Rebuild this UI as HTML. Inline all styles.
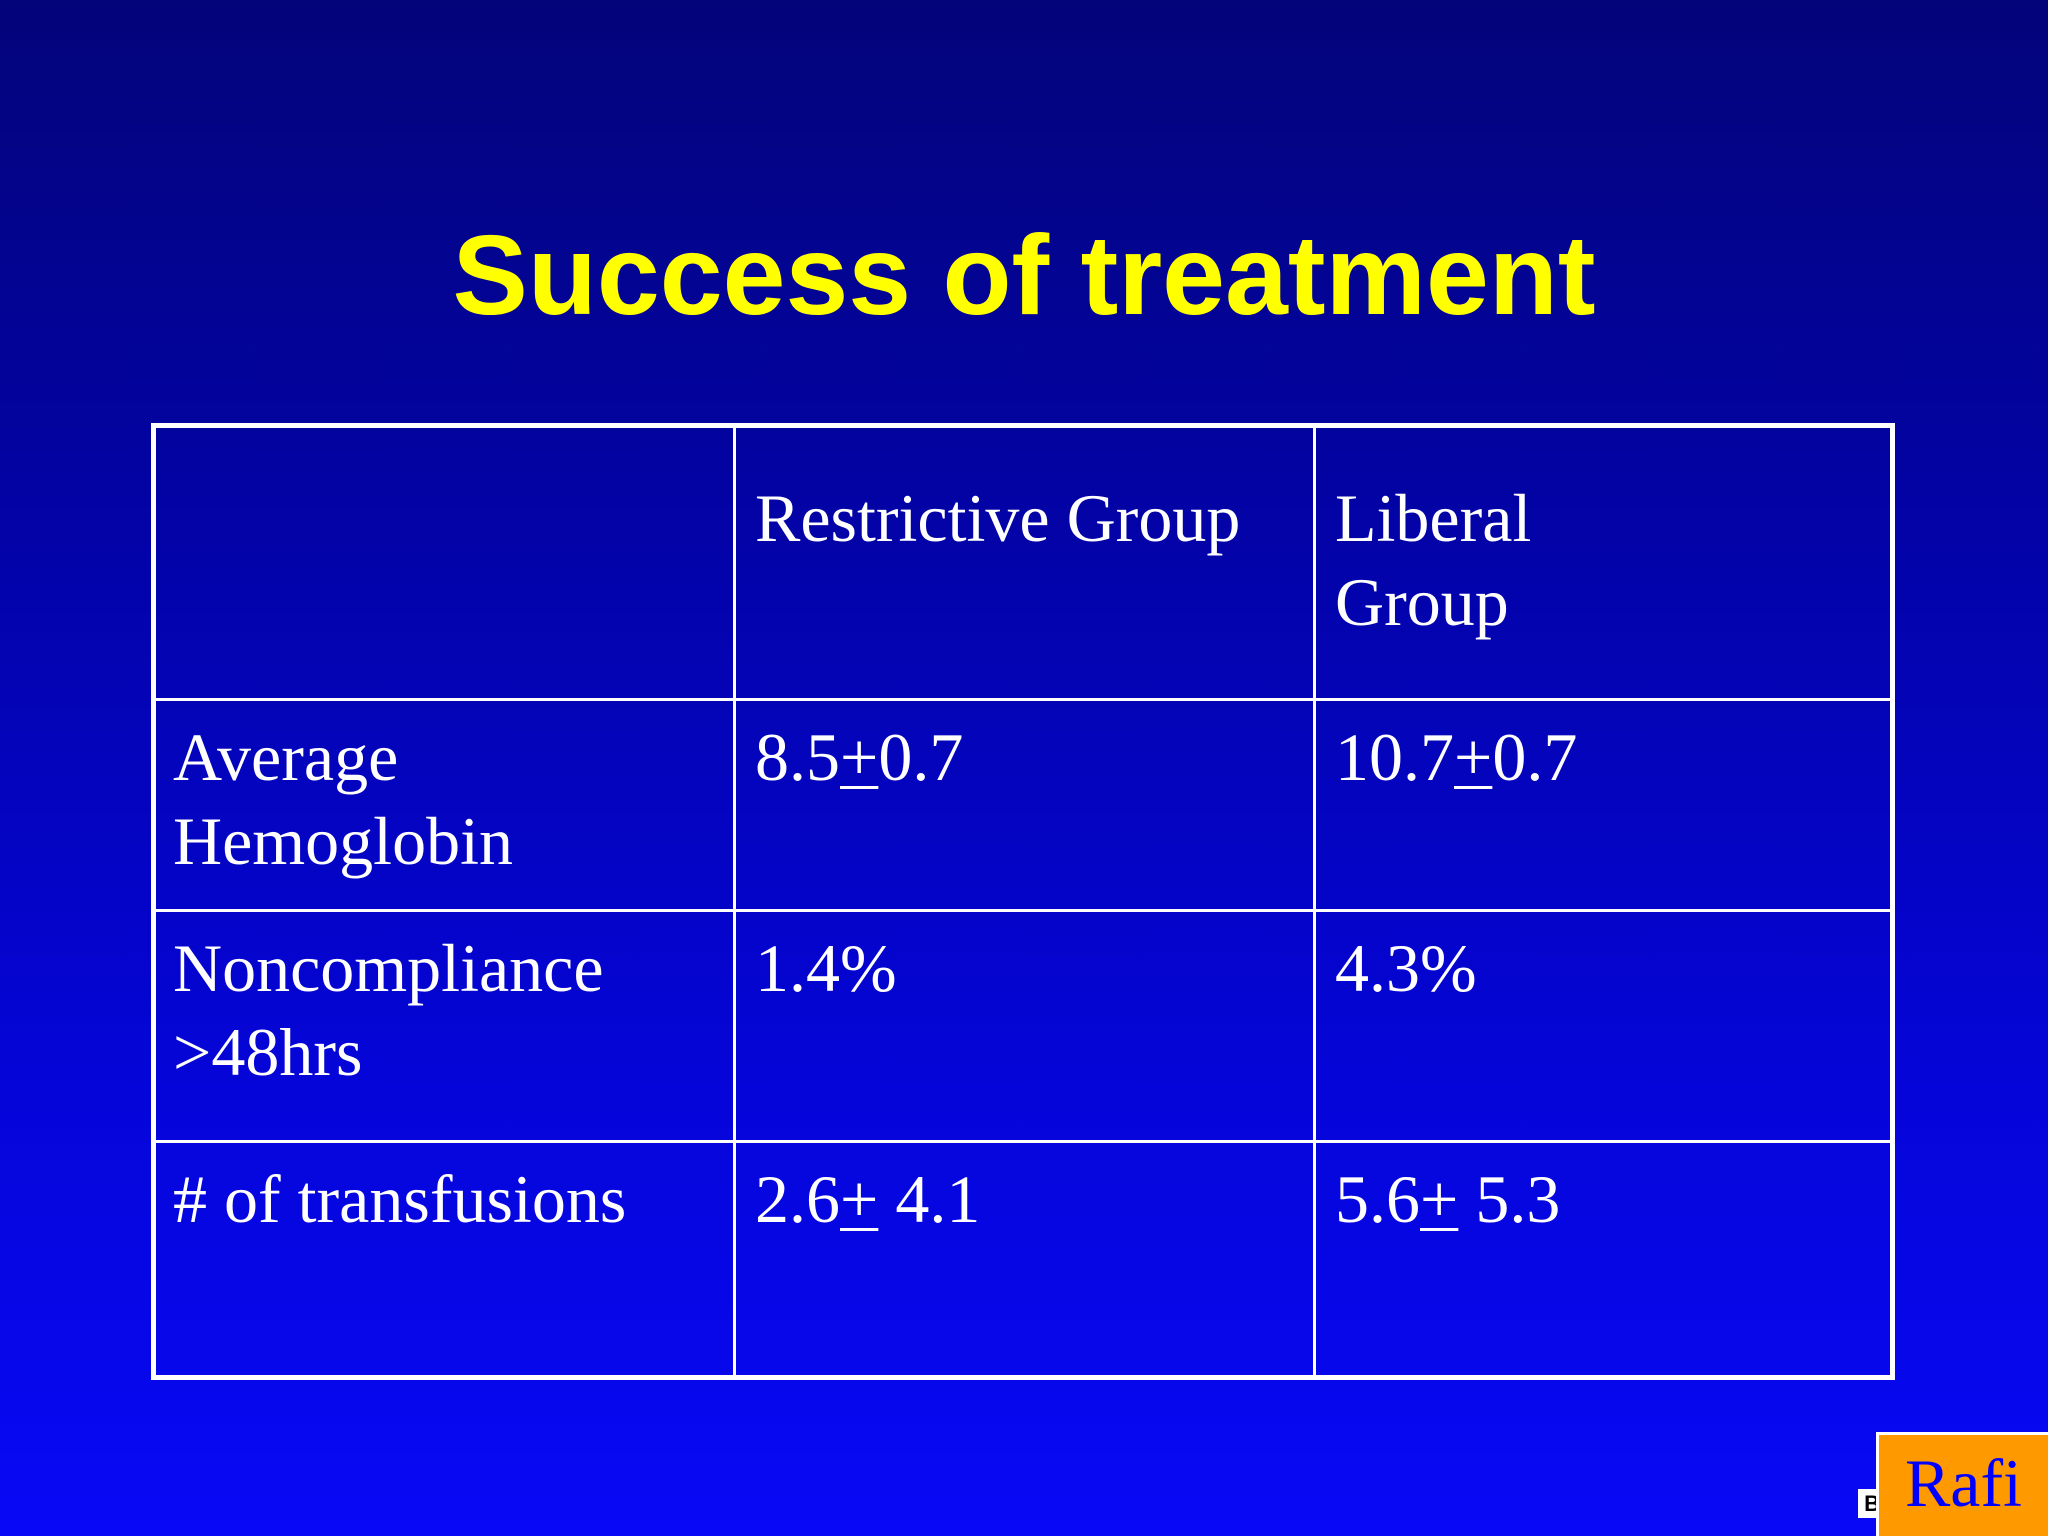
<!DOCTYPE html>
<html><head><meta charset="utf-8">
<style>
html,body{margin:0;padding:0}
body{width:2048px;height:1536px;position:relative;overflow:hidden;
background:linear-gradient(to bottom,#03047a 0%,#0303a8 35%,#0505d8 70%,#0808f6 100%);
font-family:"Liberation Serif",serif;color:#fff}
.title{position:absolute;left:0;width:2048px;top:210px;text-align:center;font-family:"Liberation Sans",sans-serif;font-weight:bold;font-size:113px;color:#ffff00;line-height:130px}
.hl{position:absolute;background:#fff}
.cell{position:absolute;font-size:68px;line-height:84px;white-space:nowrap}
u{text-decoration:underline;text-decoration-thickness:3px;text-underline-offset:6px}
</style></head><body>
<div class="title">Success of treatment</div>
<div>
<div class="hl" style="left:151px;top:423px;width:1744px;height:5px"></div>
<div class="hl" style="left:151px;top:1375px;width:1744px;height:5px"></div>
<div class="hl" style="left:151px;top:423px;width:5px;height:957px"></div>
<div class="hl" style="left:1890px;top:423px;width:5px;height:957px"></div>
<div class="hl" style="left:733px;top:423px;width:3px;height:957px"></div>
<div class="hl" style="left:1313px;top:423px;width:3px;height:957px"></div>
<div class="hl" style="left:151px;top:698px;width:1744px;height:3px"></div>
<div class="hl" style="left:151px;top:909px;width:1744px;height:3px"></div>
<div class="hl" style="left:151px;top:1140px;width:1744px;height:3px"></div>

<div class="cell" style="left:755px;top:476px">Restrictive Group</div>
<div class="cell" style="left:1335px;top:476px">Liberal<br>Group</div>

<div class="cell" style="left:173px;top:715px">Average<br>Hemoglobin</div>
<div class="cell" style="left:755px;top:715px">8.5<u>+</u>0.7</div>
<div class="cell" style="left:1335px;top:715px">10.7<u>+</u>0.7</div>

<div class="cell" style="left:173px;top:926px">Noncompliance<br>&gt;48hrs</div>
<div class="cell" style="left:755px;top:926px">1.4%</div>
<div class="cell" style="left:1335px;top:926px">4.3%</div>

<div class="cell" style="left:173px;top:1157px"># of transfusions</div>
<div class="cell" style="left:755px;top:1157px">2.6<u>+</u> 4.1</div>
<div class="cell" style="left:1335px;top:1157px">5.6<u>+</u> 5.3</div>
</div>

<div style="position:absolute;left:1858px;top:1489px;width:22px;height:29px;background:#fff;color:#000;font-family:'Liberation Sans',sans-serif;font-weight:bold;font-size:22px;line-height:29px;text-align:right;overflow:hidden">B</div>
<div style="position:absolute;left:1876px;top:1432px;width:172px;height:104px;background:#ff9900;border-left:3px solid #fff;border-top:3px solid #fff;box-sizing:border-box;color:#0000ff;font-family:'Liberation Serif',serif;font-size:68px;line-height:96px;text-align:center">Rafi</div>
</body></html>
